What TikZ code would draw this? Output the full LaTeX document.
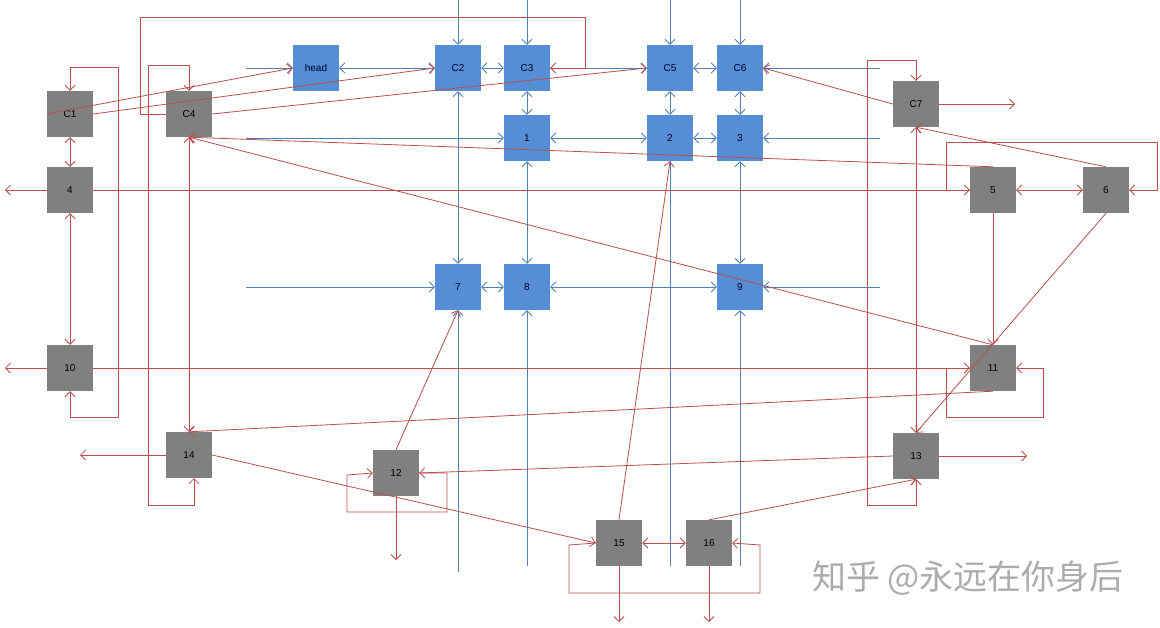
\documentclass[tikz,border=0pt]{standalone}
\usepackage{fontspec}
\setmainfont{Liberation Sans}
\newfontfamily\cjk{Noto Sans CJK SC}
\usetikzlibrary{arrows.meta}
\definecolor{bbox}{RGB}{85,142,213}
\definecolor{gbox}{RGB}{128,128,128}
\definecolor{rl}{RGB}{185,78,75}
\definecolor{bl}{RGB}{79,129,189}
\begin{document}
\begin{tikzpicture}[x=1pt,y=-1pt,
  bn/.style={fill=bbox,minimum size=46pt,inner sep=0pt,font=\fontsize{10}{11}\selectfont,text=black!85!blue},
  gn/.style={fill=gbox,minimum size=46pt,inner sep=0pt,font=\fontsize{10}{11}\selectfont},
  >={Straight Barb[length=5pt,width=10pt]},
  bline/.style={draw=bl,line width=0.8pt},
  rline/.style={draw=rl,line width=0.8pt}]
\fill[white] (0,0) rectangle (1160,627);
\useasboundingbox (0,0) rectangle (1160,627);
% blue nodes
\node[bn] (head) at (316,68) {head};
\node[bn] (C2) at (458,68) {C2};
\node[bn] (C3) at (527,68) {C3};
\node[bn] (C5) at (670,68) {C5};
\node[bn] (C6) at (740,68) {C6};
\node[bn] (n1) at (527,138) {1};
\node[bn] (n2) at (670,138) {2};
\node[bn] (n3) at (740,138) {3};
\node[bn] (n7) at (458,287) {7};
\node[bn] (n8) at (527,287) {8};
\node[bn] (n9) at (740,287) {9};
% gray nodes
\node[gn] (C1) at (70,114) {C1};
\node[gn] (C4) at (189,114) {C4};
\node[gn] (n4) at (70,190) {4};
\node[gn] (n10) at (70,368) {10};
\node[gn] (n14) at (189,455) {14};
\node[gn] (n12) at (396,473) {12};
\node[gn] (n15) at (619,543) {15};
\node[gn] (n16) at (709,543) {16};
\node[gn] (C7) at (916,104) {C7};
\node[gn] (n5) at (993,190) {5};
\node[gn] (n6) at (1106,190) {6};
\node[gn] (n11) at (993,368) {11};
\node[gn] (n13) at (916,456) {13};
% blue lines
\foreach \n in {C2,C3,C5,C6} \draw[bline,->] (\n.north) ++(0,-63) -- (\n.north);
\draw[bline,->] (246,68) -- (head.west);
\draw[bline,<->] (head) -- (C2);
\draw[bline,<->] (C2) -- (C3);
\draw[bline,->] (C3) -- (C5);
\draw[bline,<->] (C5) -- (C6);
\draw[bline,->] (880,68) -- (C6.east);
\draw[bline,<->] (C3) -- (n1);
\draw[bline,<->] (C5) -- (n2);
\draw[bline,<->] (C6) -- (n3);
\draw[bline,->] (246,138) -- (n1.west);
\draw[bline,<->] (n1) -- (n2);
\draw[bline,<->] (n2) -- (n3);
\draw[bline,->] (880,138) -- (n3.east);
\draw[bline,<->] (C2) -- (n7);
\draw[bline,<->] (n1) -- (n8);
\draw[bline,<->] (n3) -- (n9);
\draw[bline,->] (246,287) -- (n7.west);
\draw[bline,<->] (n7) -- (n8);
\draw[bline,<->] (n8) -- (n9);
\draw[bline,->] (880,287) -- (n9.east);
\draw[bline,->] (458,572) -- (n7.south);
\draw[bline,->] (527,566) -- (n8.south);
\draw[bline,->] (740,566) -- (n9.south);
\draw[bline] (670,566) -- (n2.south);
% red lines
\draw[rline,<->] (C1.north) -- (70,67) -- (118,67) -- (118,417) -- (70,417) -- (n10.south);
\draw[rline,<->] (C1) -- (n4);
\draw[rline,<->] (n4) -- (n10);
\draw[rline,->] (n4.west) -- (5,190);
\draw[rline,->] (n4.east) -- (n5.west);
\draw[rline,->] (n10.west) -- (5,368);
\draw[rline,->] (n10.east) -- (n11.west);
\draw[rline,->] (C1.west) -- (head.west);
\draw[rline,->] (C1.east) -- (C2.west);
\draw[rline,->] (C4.east) -- (C5.west);
\draw[rline,<->] (C4.north) -- (189,65) -- (148,65) -- (148,505) -- (194,505) -- (194,478);
\draw[rline,<->] (C4) -- (n14);
\draw[rline,->] (C4.west) -- (140,114) -- (140,17) -- (585,17) -- (585,68) -- (C3.east);
\draw[rline,->] (n5.north) -- (C4.south);
\draw[rline,->] (n11.north) -- (C4.south);
\draw[rline,->] (n5.south) -- (n11.north);
\draw[rline,->] (n6.south) -- (n13.north);
\draw[rline,->] (n6.north) -- (C7.south);
\draw[rline,<->] (n5) -- (n6);
\draw[rline,->] (n5.west) -- (946,190) -- (946,142) -- (1157,142) -- (1157,190) -- (n6.east);
\draw[rline,<->] (C7.north) -- (916,60) -- (867,60) -- (867,505) -- (916,505) -- (n13.south);
\draw[rline,<->] (C7) -- (n13);
\draw[rline,->] (C7.west) -- (C6.east);
\draw[rline,->] (C7.east) -- (1015,104);
\draw[rline,->] (n11.west) -- (946,368) -- (946,417) -- (1043,417) -- (1043,368) -- (n11.east);
\draw[rline,->] (n11.south) -- (n14.north);
\draw[rline,->] (n13.west) -- (n12.east);
\draw[rline,->] (n13.east) -- (1027,456);
\draw[rline,->] (n12.north) -- (n7.south);
\draw[rline,->] (n12.east) -- (447,473) -- (447,512) -- (347,512) -- (347,475) -- (n12.west);
\draw[rline,->] (n12.south) -- (396,560);
\draw[rline,->] (n14.west) -- (80,455);
\draw[rline,->] (n14.east) -- (n15.west);
\draw[rline,<->] (n15) -- (n16);
\draw[rline,->] (n15.north) -- (n2.south);
\draw[rline,->] (n16.north) -- (n13.south);
\draw[rline,->] (n15.west) -- (569,545) -- (569,593) -- (760,593) -- (760,545) -- (n16.east);
\draw[rline,->] (n15.south) -- (619,622);
\draw[rline,->] (n16.south) -- (709,622);
% watermark
\node[text=gray!65,font=\cjk\fontsize{34}{36}\selectfont,anchor=west,inner sep=0pt] (wm) at (812,578) {知乎 @永远在你身后};
\end{tikzpicture}
\end{document}
